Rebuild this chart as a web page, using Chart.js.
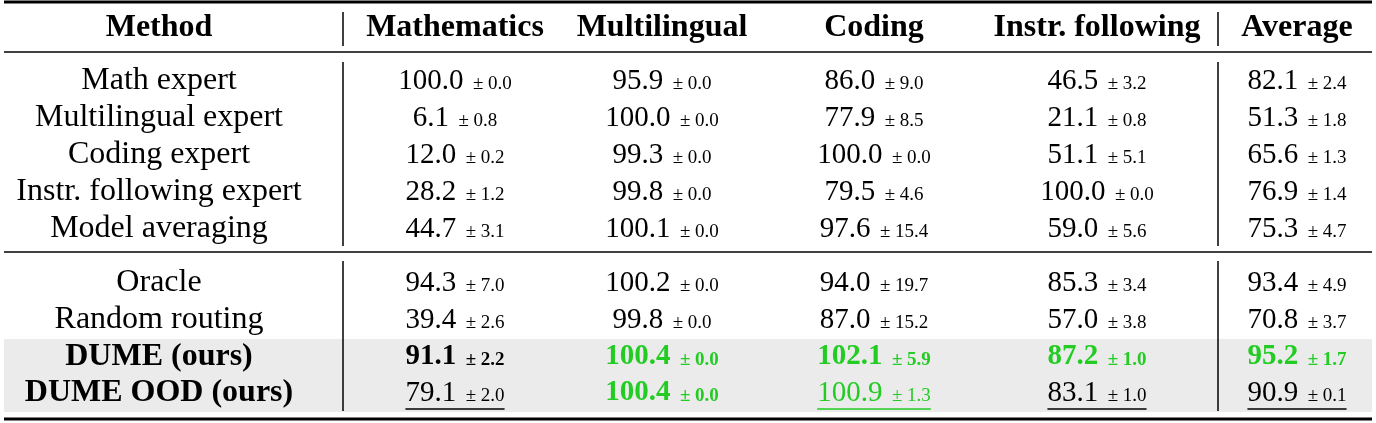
<!DOCTYPE html>
<html><head><meta charset="utf-8">
<script src="https://cdn.jsdelivr.net/npm/chart.js@4"></script>
<style>html,body{margin:0;padding:0;background:#fff}</style>
</head><body>
<canvas id="c" width="1376" height="423"></canvas>
<script>
const headers = ["Method","Mathematics","Multilingual","Coding","Instr. following","Average"];
const methods = ["Math expert","Multilingual expert","Coding expert","Instr. following expert","Model averaging","Oracle","Random routing","DUME (ours)","DUME OOD (ours)"];
const mathMean = ["100.0","6.1","12.0","28.2","44.7","94.3","39.4","91.1","79.1"];
const mathStd  = ["0.0","0.8","0.2","1.2","3.1","7.0","2.6","2.2","2.0"];
const multiMean = ["95.9","100.0","99.3","99.8","100.1","100.2","99.8","100.4","100.4"];
const multiStd  = ["0.0","0.0","0.0","0.0","0.0","0.0","0.0","0.0","0.0"];
const codeMean = ["86.0","77.9","100.0","79.5","97.6","94.0","87.0","102.1","100.9"];
const codeStd  = ["9.0","8.5","0.0","4.6","15.4","19.7","15.2","5.9","1.3"];
const instrMean = ["46.5","21.1","51.1","100.0","59.0","85.3","57.0","87.2","83.1"];
const instrStd  = ["3.2","0.8","5.1","0.0","5.6","3.4","3.8","1.0","1.0"];
const avgMean = ["82.1","51.3","65.6","76.9","75.3","93.4","70.8","95.2","90.9"];
const avgStd  = ["2.4","1.8","1.3","1.4","4.7","4.9","3.7","1.7","0.1"];

// layout / styling (not data)
const colX = [159,455,662,874,1097,1297];
const rowY = [28,81,118,155,192,229,283,320,357,393];
const GREEN = "#22cc22";
const styleMap = {
  "7-1":{b:1},"7-2":{b:1,g:1},"7-3":{b:1,g:1},"7-4":{b:1,g:1},"7-5":{b:1,g:1},
  "8-1":{u:1},"8-2":{b:1,g:1},"8-3":{g:1,u:1},"8-4":{u:1},"8-5":{u:1}
};
const cols = [[mathMean,mathStd],[multiMean,multiStd],[codeMean,codeStd],[instrMean,instrStd],[avgMean,avgStd]];
const F = "'Liberation Serif','DejaVu Serif',serif";

const tablePlugin = {
  id:'table',
  beforeDraw(chart){
    const {ctx, scales:{x,y}} = chart;
    ctx.save();
    ctx.fillStyle="#fff"; ctx.fillRect(0,0,chart.width,chart.height);
    ctx.fillStyle="#ebebeb";
    ctx.fillRect(x.getPixelForValue(4), y.getPixelForValue(339), x.getPixelForValue(1372)-x.getPixelForValue(4), y.getPixelForValue(412)-y.getPixelForValue(339));
    ctx.restore();
  },
  afterDraw(chart){
    const {ctx, scales:{x,y}} = chart;
    ctx.save();
    ctx.strokeStyle="#000";
    const hline=(yy,w)=>{ctx.lineWidth=w;ctx.beginPath();ctx.moveTo(x.getPixelForValue(4),y.getPixelForValue(yy));ctx.lineTo(x.getPixelForValue(1372),y.getPixelForValue(yy));ctx.stroke();};
    hline(2,3); hline(52,1.5); hline(252,1.5); hline(419,3);
    ctx.lineWidth=1.5;
    [343,1218].forEach(vx=>{
      [[12,46],[62,246],[261,411]].forEach(([a,b])=>{
        ctx.beginPath();ctx.moveTo(x.getPixelForValue(vx),y.getPixelForValue(a));ctx.lineTo(x.getPixelForValue(vx),y.getPixelForValue(b));ctx.stroke();});
    });
    ctx.textBaseline="middle"; ctx.textAlign="left";
    ctx.fillStyle="#000"; ctx.font="bold 32px "+F;
    headers.forEach((h,i)=>{const w=ctx.measureText(h).width;ctx.fillText(h,x.getPixelForValue(colX[i])-w/2,y.getPixelForValue(rowY[0]));});
    methods.forEach((m,r)=>{
      const py=y.getPixelForValue(rowY[r+1]);
      ctx.fillStyle="#000";
      ctx.font=(r>=7?"bold ":"")+"32px "+F;
      const w=ctx.measureText(m).width;
      ctx.fillText(m,x.getPixelForValue(colX[0])-w/2,py);
      cols.forEach(([mean,std],c)=>{
        const s=styleMap[r+"-"+(c+1)]||{};
        const b=s.b?"bold ":"";
        const f1=b+"29px "+F, f2=b+"19px "+F;
        const t1=mean[r], t2="  \u00b1 "+std[r];
        ctx.font=f1; const w1=ctx.measureText(t1).width;
        ctx.font=f2; const w2=ctx.measureText(t2).width;
        const x0=x.getPixelForValue(colX[c+1])-(w1+w2)/2;
        ctx.fillStyle=s.g?GREEN:"#000";
        ctx.font=f1; ctx.fillText(t1,x0,py);
        ctx.font=f2; ctx.fillText(t2,x0+w1,py+3);
        if(s.u){ctx.strokeStyle=ctx.fillStyle;ctx.lineWidth=1.4;ctx.beginPath();ctx.moveTo(x0,py+16);ctx.lineTo(x0+w1+w2,py+16);ctx.stroke();}
      });
    });
    ctx.restore();
  }
};

new Chart(document.getElementById('c'),{
  type:'scatter',
  data:{datasets:[{data:[]}]},
  options:{
    responsive:false, animation:false,
    layout:{padding:0},
    plugins:{legend:{display:false},tooltip:{enabled:false}},
    scales:{
      x:{type:'linear',min:0,max:1376,display:false},
      y:{type:'linear',min:0,max:423,reverse:true,display:false}
    }
  },
  plugins:[tablePlugin]
});
</script>
</body></html>
